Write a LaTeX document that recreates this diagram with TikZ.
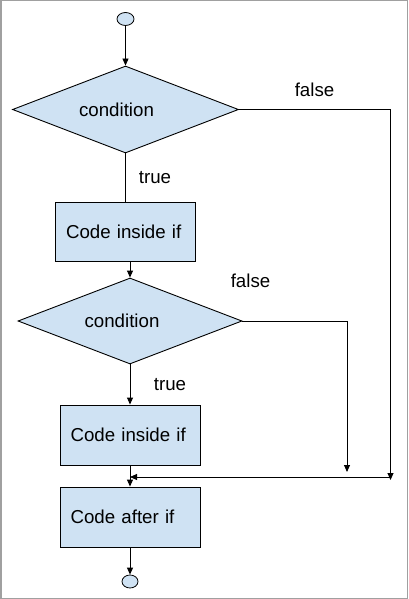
\documentclass[tikz,border=0pt]{standalone}
\usepackage{fontspec}
\setmainfont{Liberation Sans}
\usetikzlibrary{shapes.geometric,arrows.meta}
\definecolor{boxfill}{RGB}{207,226,243}
\definecolor{framegray}{RGB}{160,160,160}
\begin{document}
\begin{tikzpicture}[x=1pt,y=-1pt, font=\fontsize{18.7}{22}\selectfont,
  line/.style={line width=0.9pt, draw=black},
  arr/.style={line, -{Triangle[length=7pt,width=6pt]}},
  term/.style={ellipse, draw, fill=boxfill, line width=0.8pt, minimum width=17pt, minimum height=13pt, inner sep=0pt},
  decision/.style={diamond, draw, fill=boxfill, line width=0.9pt, inner sep=0pt, shape aspect=2.6, minimum width=226pt, minimum height=87pt},
  process/.style={rectangle, draw, fill=boxfill, line width=0.9pt, minimum height=59pt, text width=119pt, inner xsep=10.5pt, align=left},
  lbl/.style={inner sep=0pt}]
\useasboundingbox (0,0) rectangle (408,599);
\draw[framegray, line width=1.5pt] (0.75,0.75) rectangle (407.25,598.25);

\node[term] (start) at (125.5,19) {};
\node[decision] (d1) at (125.5,109.5) {condition\hspace*{18pt}};
\node[process] (b1) at (125.5,231.5) {Code inside if};
\node[decision, minimum width=224pt, minimum height=86pt] (d2) at (130,321) {condition\hspace*{16pt}};
\node[process, minimum height=60pt] (b2) at (130,435) {Code inside if};
\node[process, minimum height=60pt] (b3) at (130,517) {Code after if};
\node[term, minimum width=16pt] (end) at (130,581.5) {};

\coordinate (m) at (130,477);
\coordinate (r1) at (390.5,109.5);
\coordinate (r1b) at (390.5,480);
\coordinate (r2) at (347,321);
\coordinate (r2b) at (347,472);

\draw[arr] (start) -- (d1.north);
\draw[line] (d1.south) -- (b1.north);
\node[lbl] (t1) at (155,178) {true};
\draw[arr] (b1.south -| d2.north) -- (d2.north);
\draw[arr] (d2.south) -- (b2.north);
\node[lbl] (t2) at (170,385) {true};
\draw[arr] (b2.south) -- (b3.north);
\draw[arr] (b3.south) -- (end.north);

\draw[arr] (d1.east) -- (r1) -- (r1b);
\node[lbl] (f1) at (314.5,89.5) {false};
\draw[arr] (d2.east) -- (r2) -- (r2b);
\node[lbl] (f2) at (250.5,281) {false};
\draw[arr] (r1b |- m) -- (m);
\end{tikzpicture}
\end{document}
